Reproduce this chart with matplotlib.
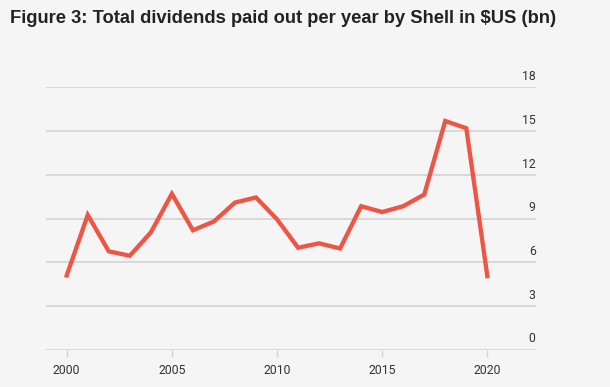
import matplotlib
matplotlib.use("Agg")
import matplotlib.pyplot as plt
import matplotlib.transforms as mtransforms
import numpy as np

BG = "#f4f5f4"; RED = "#ef5545"; GRID = "#d3d3d3"; TXT = "#333333"

years = np.arange(2000, 2021)
dividends = [5.1, 9.25, 6.75, 6.45, 8.05, 10.7, 8.2, 8.8, 10.1, 10.45, 8.95,
             7.0, 7.3, 6.95, 9.85, 9.45, 9.85, 10.65, 15.7, 15.2, 5.05]
yticks = [0, 3, 6, 9, 12, 15, 18]
xticks = [2000, 2005, 2010, 2015, 2020]
title = "Figure 3: Total dividends paid out per year by Shell in $US (bn)"

fig = plt.figure(figsize=(6.10, 3.87), dpi=100, facecolor=BG)
ax = fig.add_axes([0.0749, 0.0964, 0.8033, 0.6776], facecolor=BG)

ax.plot(years, dividends, color=RED, lw=3.1, solid_joinstyle="miter", zorder=3)

ax.set_xlim(1999.0, 2022.3)
ax.set_ylim(0, 18)
for s in ["top", "right", "left", "bottom"]:
    ax.spines[s].set_visible(False)

for v in yticks:
    ax.axhline(v, color=GRID, lw=1.2, zorder=1)

# y labels sit just above their gridline, right-aligned at its end
trans = mtransforms.blended_transform_factory(ax.transAxes, ax.transData)
for v in yticks:
    ax.text(1.0, v + 0.3, str(v), transform=trans, ha="right", va="bottom",
            fontsize=8.8, color=TXT, family="Roboto")

ax.set_yticks([])
ax.set_xticks(xticks)
ax.tick_params(axis="x", length=5, width=1, color=GRID, pad=5,
               labelsize=8.8, labelcolor=TXT)
for lab in ax.get_xticklabels():
    lab.set_family("Roboto")

fig.text(0.016, 0.952, title, ha="left", va="center", fontsize=13.2,
         fontweight="bold", color="#222222", family="Liberation Sans")

fig.savefig("out.png", dpi=100, facecolor=BG)
